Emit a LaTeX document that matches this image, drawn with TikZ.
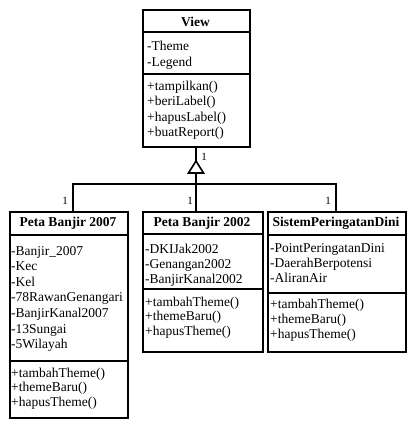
\documentclass[tikz,border=0pt]{standalone}
\usepackage{fontspec}
\setmainfont{Liberation Serif}
\begin{document}
\begin{tikzpicture}[x=1pt,y=-1pt,
  box/.style={draw=black, line width=1.6pt, fill=white, inner sep=0pt, anchor=north west},
  sep/.style={line width=1.4pt},
  conn/.style={line width=1.6pt},
  ttl/.style={font=\fontsize{13.5}{15}\selectfont\bfseries, inner sep=0pt, anchor=base},
  txt/.style={font=\fontsize{13.5}{15}\selectfont, inner sep=0pt, anchor=base west},
  lbl/.style={font=\fontsize{11}{12}\selectfont, inner sep=0pt}]
\useasboundingbox (0,0) rectangle (417,428);
\fill[white] (0,0) rectangle (417,428);

% ---------- View ----------
\node[box, minimum width=107pt, minimum height=137pt] (view) at (142,9) {};
\draw[sep] (142,32) -- (249,32);
\draw[sep] (142,74) -- (249,74);
\node[ttl] (viewT) at (195.5,27) {View};
\foreach \t [count=\i] in {-Theme,-Legend}
  \node[txt] (viewA\i) at (147,51+15.3*\i-15.3) {\t};
\foreach \t [count=\i] in {+tampilkan(),+beriLabel(),+hapusLabel(),+buatReport()}
  \node[txt] (viewM\i) at (147,90+15.6*\i-15.6) {\t};

% ---------- Peta Banjir 2007 ----------
\node[box, minimum width=118pt, minimum height=206pt] (pb7) at (9,211) {};
\draw[sep] (9,235) -- (127,235);
\draw[sep] (9,361) -- (127,361);
\node[ttl] (pb7T) at (68,226) {Peta Banjir 2007};
\foreach \t [count=\i] in {-Banjir\_2007,-Kec,-Kel,-78RawanGenangari,-BanjirKanal2007,-13Sungai,-5Wilayah}
  \node[txt] (pb7A\i) at (11,255+15.6*\i-15.6) {\t};
\foreach \t [count=\i] in {+tambahTheme(),+themeBaru(),+hapusTheme()}
  \node[txt] (pb7M\i) at (11,377+14.8*\i-14.8) {\t};

% ---------- Peta Banjir 2002 ----------
\node[box, minimum width=120pt, minimum height=140pt] (pb2) at (142,211) {};
\draw[sep] (142,234) -- (262,234);
\draw[sep] (142,289) -- (262,289);
\node[ttl] (pb2T) at (202,226) {Peta Banjir 2002};
\foreach \t [count=\i] in {-DKIJak2002,-Genangan2002,-BanjirKanal2002}
  \node[txt] (pb2A\i) at (145,253+15*\i-15) {\t};
\foreach \t [count=\i] in {+tambahTheme(),+themeBaru(),+hapusTheme()}
  \node[txt] (pb2M\i) at (145,306+14.6*\i-14.6) {\t};

% ---------- SistemPeringatanDini ----------
\node[box, minimum width=138pt, minimum height=140pt] (spd) at (267,211) {};
\draw[sep] (267,235) -- (405,235);
\draw[sep] (267,293) -- (405,293);
\node[ttl] (spdT) at (336,226) {SistemPeringatanDini};
\foreach \t [count=\i] in {-PointPeringatanDini,-DaerahBerpotensi,-AliranAir}
  \node[txt] (spdA\i) at (270,252+15.4*\i-15.4) {\t};
\foreach \t [count=\i] in {+tambahTheme(),+themeBaru(),+hapusTheme()}
  \node[txt] (spdM\i) at (270,308+15*\i-15) {\t};

% ---------- connectors ----------
\coordinate (tip) at (196,161);
\coordinate (tbase) at (196,173);
\coordinate (j) at (196,184);
\coordinate (a7) at (73,211);
\coordinate (h7) at (73,184);
\coordinate (a2) at (196,211);
\coordinate (aR) at (336,211);
\coordinate (hR) at (336,184);
\coordinate (vb) at (196,146);
\draw[conn] (vb) -- (tip);
\draw[conn, fill=white, line join=miter] (tip) -- ++(-7.5,12) -- ++(15,0) -- cycle;
\draw[conn] (tbase) -- (j);
\draw[conn] (a7) -- (h7) -- (hR) -- (aR);
\draw[conn] (j) -- (a2);

\node[lbl] (l0) at (204,157) {1};
\node[lbl] (l2) at (190,201) {1};
\node[lbl] (l7) at (65,201) {1};
\node[lbl] (lR) at (328,201) {1};
\end{tikzpicture}
\end{document}
